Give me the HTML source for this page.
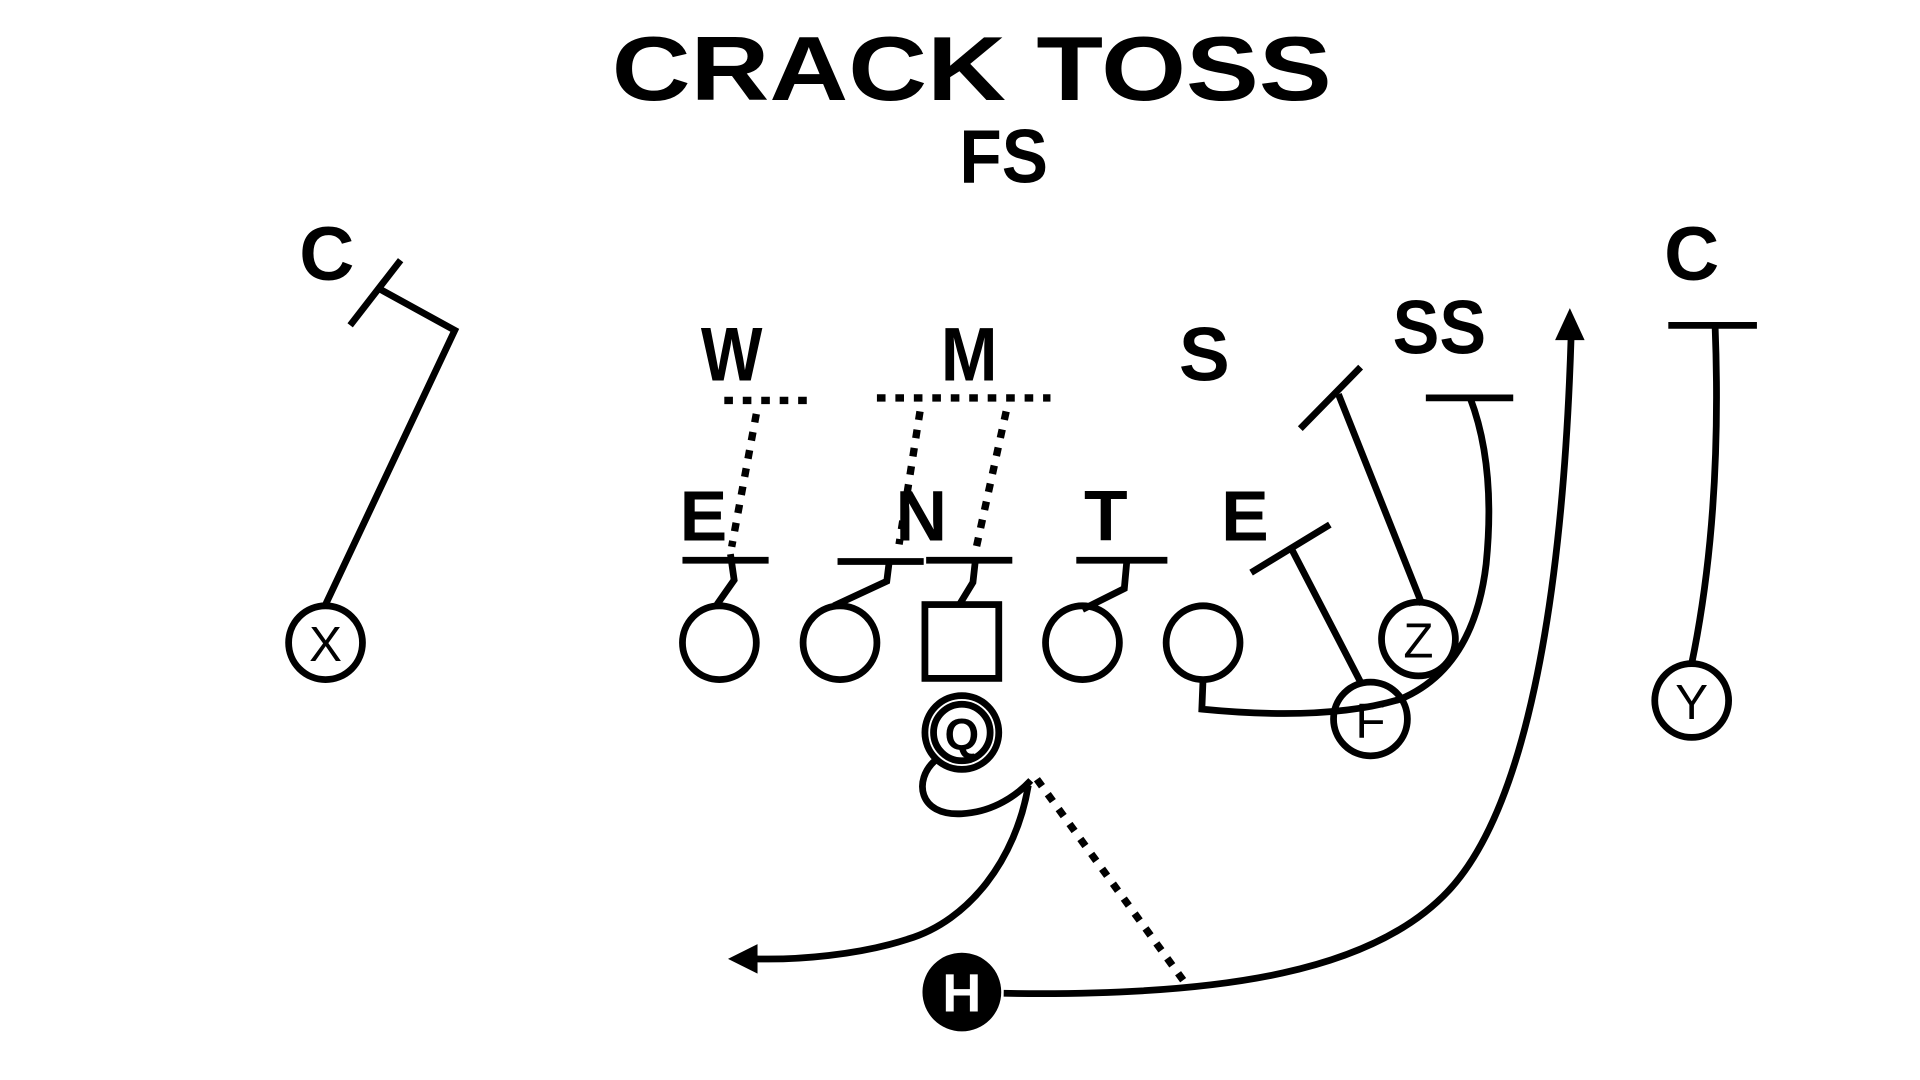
<!DOCTYPE html>
<html><head><meta charset="utf-8"><style>html,body{margin:0;padding:0;background:#fff;overflow:hidden}svg{display:block}</style></head>
<body>
<svg width="1920" height="1080" viewBox="2.5 1.5 1560 878" preserveAspectRatio="none" xmlns="http://www.w3.org/2000/svg">
<g font-family="Liberation Sans, Arial, sans-serif" font-weight="bold" text-anchor="middle" fill="#000">
<text x="792" y="83" font-size="74" textLength="585" lengthAdjust="spacingAndGlyphs">CRACK TOSS</text>
<text x="818" y="150" font-size="62" textLength="72" lengthAdjust="spacingAndGlyphs">FS</text>
<text x="268" y="229" font-size="62">C</text>
<text x="1377" y="229" font-size="62">C</text>
<text x="597" y="311" font-size="62" textLength="50" lengthAdjust="spacingAndGlyphs">W</text>
<text x="790" y="311" font-size="62" textLength="46" lengthAdjust="spacingAndGlyphs">M</text>
<text x="981" y="311" font-size="62">S</text>
<text x="1172" y="289" font-size="62" textLength="76" lengthAdjust="spacingAndGlyphs">SS</text>
<text x="574" y="441" font-size="58">E</text>
<text x="751" y="441" font-size="58">N</text>
<text x="901" y="441" font-size="58">T</text>
<text x="1014" y="441" font-size="58">E</text>
</g>
<g fill="none" stroke="#000" stroke-width="5.5">
<line x1="287" y1="266" x2="328" y2="213"/>
<polyline points="312,237 372,270 267,493"/>
<circle cx="267" cy="524" r="30"/>
<circle cx="587" cy="524" r="30"/>
<circle cx="685" cy="524" r="30"/>
<circle cx="882" cy="524" r="30"/>
<circle cx="980" cy="524" r="30"/>
<rect x="754" y="493" width="60" height="60"/>
<circle cx="784" cy="597" r="30"/>
<circle cx="784" cy="597" r="23"/>
<circle cx="1116" cy="586" r="30"/>
<circle cx="1155" cy="521" r="30"/>
<circle cx="1377" cy="571" r="30"/>
<line x1="557" y1="457" x2="627" y2="457"/>
<line x1="683" y1="458" x2="753" y2="458"/>
<line x1="755" y1="457" x2="825" y2="457"/>
<line x1="877" y1="457" x2="951" y2="457"/>
<polyline points="585,493 599,473 596,452"/>
<polyline points="680,494 723,474 725,458"/>
<polyline points="782,493 793,475 795,457"/>
<polyline points="882,497 916,480 918,458"/>
<path d="M980,553 L979,578 Q1080,588 1140,570 Q1200,545 1210,460 Q1218,380 1197,325"/>
<line x1="1161" y1="325" x2="1232" y2="325"/>
<line x1="1158" y1="493" x2="1090" y2="322"/>
<line x1="1059" y1="350" x2="1108" y2="300"/>
<line x1="1109" y1="558" x2="1052" y2="448"/>
<line x1="1019" y1="467" x2="1083" y2="428"/>
<path d="M1377,541 Q1402,420 1396,266"/>
<line x1="1358" y1="266" x2="1430" y2="266"/>
<path d="M818,809 C1000,812 1120,790 1180,725 C1240,660 1272,500 1279,276"/>
<path d="M762,620 C745,635 748,665 784,663 C805,662 825,652 840,636"/>
<path d="M838,640 C828,700 790,750 740,765 C700,778 650,782 616,781"/>
</g>
<polygon points="1266,278 1290,278 1278,252" fill="#000"/>
<polygon points="618,769 618,793 594,781" fill="#000"/>
<g fill="none" stroke="#000" stroke-width="6" stroke-dasharray="7,8">
<line x1="591" y1="327" x2="662" y2="327"/>
<line x1="715" y1="325" x2="856" y2="325"/>
<line x1="617" y1="338" x2="597" y2="446"/>
<line x1="750" y1="336" x2="733" y2="444"/>
<line x1="820" y1="336" x2="795" y2="450"/>
<line x1="845" y1="635" x2="965" y2="800"/>
</g>
<circle cx="784" cy="808" r="32" fill="#000"/>
<g font-family="Liberation Sans, Arial, sans-serif" text-anchor="middle">
<text x="267" y="539" font-size="40">X</text>
<text x="784" y="611" font-size="36" font-weight="bold">Q</text>
<text x="1155" y="536" font-size="40">Z</text>
<text x="1116" y="601" font-size="40">F</text>
<text x="1377" y="586" font-size="40">Y</text>
<text x="784" y="824" font-size="44" font-weight="bold" fill="#fff">H</text>
</g>
</svg>
</body></html>
